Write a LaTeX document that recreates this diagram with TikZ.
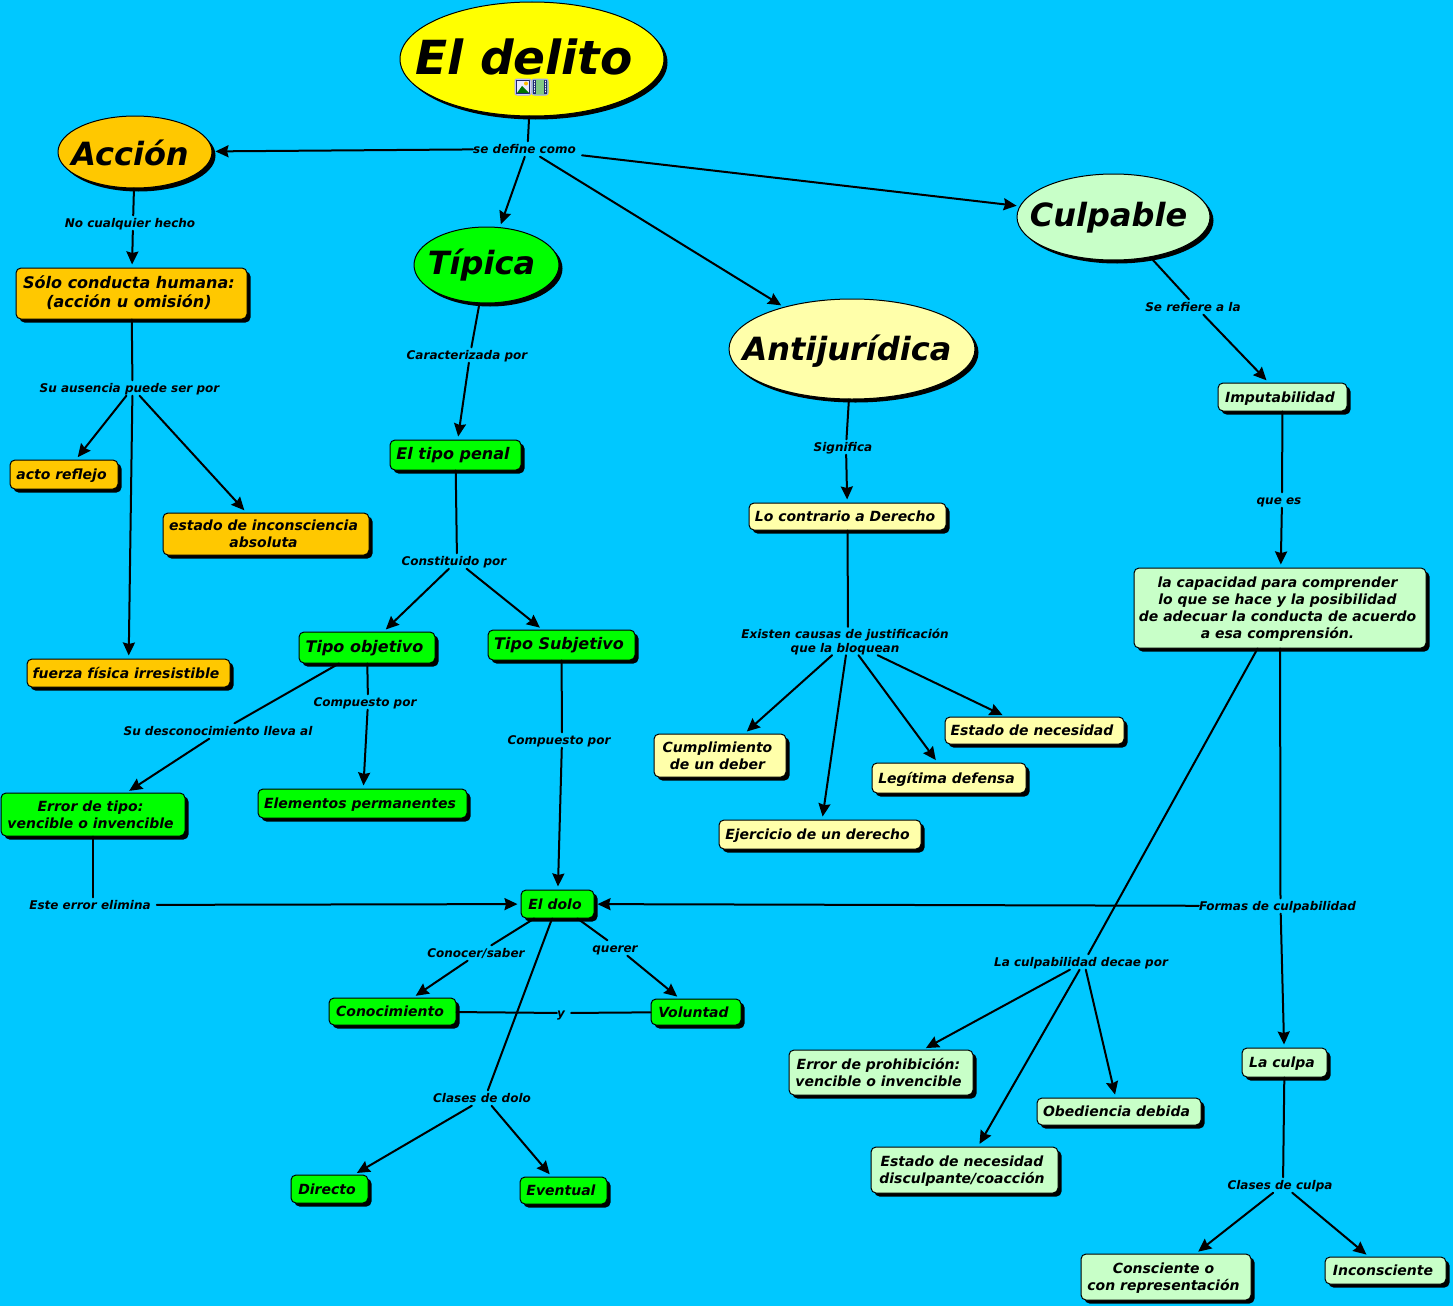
\documentclass[tikz,border=0pt]{standalone}
\usepackage{fontspec}
\setmainfont{DejaVu Sans}
\usetikzlibrary{arrows.meta,shapes.geometric,shadows}
\definecolor{fondo}{RGB}{0,200,255}
\definecolor{amarillo}{RGB}{255,255,0}
\definecolor{naranja}{RGB}{255,200,0}
\definecolor{verde}{RGB}{0,255,0}
\definecolor{verdeclaro}{RGB}{200,255,200}
\definecolor{crema}{RGB}{255,255,170}
\definecolor{marino}{RGB}{30,40,110}
\newcommand{\cj}[1]{\raisebox{-2pt}[\height][\depth]{\begin{tabular}{@{}c@{\hspace{5pt}}}#1\end{tabular}}}
\newcommand{\cjg}[1]{\raisebox{-1pt}[\height][\depth]{\begin{tabular}{@{}c@{\hspace{5pt}}}#1\end{tabular}}}
\newcommand{\et}[1]{\raisebox{-2pt}[\height][\depth]{\begin{tabular}{@{}c@{\hspace{6pt}}}#1\end{tabular}}}
\newcommand{\elip}[2][0.30em]{\makebox[0pt]{\smash{\raisebox{-#1}{#2\hspace{10pt}}}}}
\tikzset{
  sombra/.style={general shadow={shadow xshift=3.5pt,shadow yshift=-3.5pt,fill=black}},
  elipse/.style={ellipse,draw=black,line width=1pt,sombra,inner sep=0pt,font=\fontsize{32}{36}\selectfont\bfseries\itshape},
  caja/.style={rectangle,rounded corners=5pt,draw=black,line width=1pt,sombra,inner sep=0pt,font=\fontsize{14}{17}\selectfont\bfseries\itshape},
  cajag/.style={caja,font=\fontsize{16}{19}\selectfont\bfseries\itshape},
  etiqueta/.style={inner sep=0pt,minimum height=15pt,font=\fontsize{12}{14}\selectfont\bfseries\itshape},
  icono/.style={draw=blue!35!white,rounded corners=2pt,line width=1pt,minimum size=16pt,inner sep=0pt},
  enlace/.style={line width=2pt},
  flecha/.style={line width=2pt,-{Stealth[length=13pt,width=12pt,inset=1.5pt]},shorten >=3pt},
}
\begin{document}
\begin{tikzpicture}[line cap=round,line join=round,x=1pt,y=-1pt]
\useasboundingbox (0,0) rectangle (1453,1306);
\fill[fondo] (0,0) rectangle (1453,1306);

\node[elipse,fill=amarillo,minimum width=264pt,minimum height=114pt,font=\fontsize{47}{52}\selectfont\bfseries\itshape] (delito) at (532,59) {\elip[0.32em]{El delito\hspace{6pt}}};
\node[elipse,fill=naranja,minimum width=154pt,minimum height=72pt] (accion) at (135,152) {\elip[0.42em]{Acción}};
\node[elipse,fill=verde,minimum width=145pt,minimum height=76pt] (tipica) at (486.5,265) {\elip{Típica}};
\node[elipse,fill=crema,minimum width=246pt,minimum height=100pt] (antijuridica) at (852,349) {\elip[0.36em]{Antijurídica}};
\node[elipse,fill=verdeclaro,minimum width=193pt,minimum height=86pt] (culpable) at (1113.5,217) {\elip{Culpable}};

\node[icono,fill=blue!8!white] (imagen) at (523,87) {};
\node[icono,fill=green!40!gray!70!white] (video) at (540,87) {};
\fill[green!45!black] (517,93) -- (522,86) -- (529,93) -- cycle;
\fill[orange!50!yellow] (526,83.5) circle (2pt);
\draw[marino,line width=0.8pt] (516.5,80.5) rectangle (529.5,93.5);
\fill[marino] (533,80) rectangle (536,94);
\fill[marino] (544,80) rectangle (547,94);
\draw[white,line width=0.8pt,dash pattern=on 1pt off 1.5pt] (534.5,81) -- (534.5,93);
\draw[white,line width=0.8pt,dash pattern=on 1pt off 1.5pt] (545.5,81) -- (545.5,93);

\node[cajag,fill=naranja,minimum width=231pt,minimum height=51pt] (solo) at (131.5,293.5) {\cjg{Sólo conducta humana:\\(acción u omisión)}};
\node[caja,fill=naranja,minimum width=108pt,minimum height=29pt] (acto) at (64,474.5) {\cj{acto reflejo}};
\node[caja,fill=naranja,minimum width=206pt,minimum height=42pt] (estado) at (266,534) {\cj{estado de inconsciencia\\absoluta}};
\node[caja,fill=naranja,minimum width=203pt,minimum height=28pt] (fuerza) at (128.5,673) {\cj{fuerza física irresistible}};

\node[cajag,fill=verde,minimum width=131pt,minimum height=30pt] (penal) at (455.5,455) {\cjg{El tipo penal}};
\node[cajag,fill=verde,minimum width=136pt,minimum height=31pt] (objetivo) at (367,647.5) {\cjg{Tipo objetivo}};
\node[cajag,fill=verde,minimum width=147pt,minimum height=30pt] (subjetivo) at (561.5,645) {\cjg{Tipo Subjetivo}};
\node[caja,fill=verde,minimum width=184pt,minimum height=43pt] (error) at (93,814.5) {\cj{Error de tipo:\\vencible o invencible}};
\node[caja,fill=verde,minimum width=209pt,minimum height=29pt] (elementos) at (362.5,803.5) {\cj{Elementos permanentes}};
\node[caja,fill=verde,minimum width=73pt,minimum height=28pt] (dolo) at (557.5,904) {\cj{El dolo}};
\node[caja,fill=verde,minimum width=127pt,minimum height=27pt] (conocimiento) at (392.5,1011.5) {\cj{Conocimiento}};
\node[caja,fill=verde,minimum width=90pt,minimum height=26pt] (voluntad) at (696,1012) {\cj{Voluntad}};
\node[caja,fill=verde,minimum width=77pt,minimum height=28pt] (directo) at (329.5,1189) {\cj{Directo}};
\node[caja,fill=verde,minimum width=87pt,minimum height=27pt] (eventual) at (563.5,1190.5) {\cj{Eventual}};

\node[caja,fill=crema,minimum width=197pt,minimum height=27pt] (contrario) at (847.5,516.5) {\cj{Lo contrario a Derecho}};
\node[caja,fill=crema,minimum width=132pt,minimum height=43pt] (cumplimiento) at (720,755.5) {\cj{Cumplimiento\\de un deber}};
\node[caja,fill=crema,minimum width=179pt,minimum height=27pt] (necesidad) at (1034.5,730.5) {\cj{Estado de necesidad}};
\node[caja,fill=crema,minimum width=154pt,minimum height=30pt] (legitima) at (949,778) {\cj{Legítima defensa}};
\node[caja,fill=crema,minimum width=202pt,minimum height=29pt] (ejercicio) at (820,834.5) {\cj{Ejercicio de un derecho}};

\node[caja,fill=verdeclaro,minimum width=129pt,minimum height=28pt] (imputabilidad) at (1282.5,397) {\cj{Imputabilidad}};
\node[caja,fill=verdeclaro,minimum width=292pt,minimum height=80pt] (capacidad) at (1280,608) {\cj{la capacidad para comprender\\lo que se hace y la posibilidad\\de adecuar la conducta de acuerdo\\a esa comprensión.}};
\node[caja,fill=verdeclaro,minimum width=85pt,minimum height=29pt] (culpa) at (1284.5,1062.5) {\cj{La culpa}};
\node[caja,fill=verdeclaro,minimum width=184pt,minimum height=45pt] (prohibicion) at (881,1072.5) {\cj{Error de prohibición:\\vencible o invencible}};
\node[caja,fill=verdeclaro,minimum width=164pt,minimum height=27pt] (obediencia) at (1119,1111.5) {\cj{Obediencia debida}};
\node[caja,fill=verdeclaro,minimum width=187pt,minimum height=46pt] (disculpante) at (964.5,1170) {\cj{Estado de necesidad\\disculpante/coacción}};
\node[caja,fill=verdeclaro,minimum width=170pt,minimum height=46pt] (consciente) at (1166,1277) {\cj{Consciente o\\con representación}};
\node[caja,fill=verdeclaro,minimum width=121pt,minimum height=27pt] (inconsciente) at (1385.5,1270.5) {\cj{Inconsciente}};

\node[etiqueta] (define) at (527.5,149) {\et{se define como}};
\node[etiqueta] (hecho) at (133,223) {\et{No cualquier hecho}};
\node[etiqueta] (ausencia) at (132.5,388) {\et{Su ausencia puede ser por}};
\node[etiqueta] (caracterizada) at (470,355) {\et{Caracterizada por}};
\node[etiqueta] (constituido) at (457,561) {\et{Constituido por}};
\node[etiqueta] (compuesto1) at (368,702) {\et{Compuesto por}};
\node[etiqueta] (desconocimiento) at (221,731) {\et{Su desconocimiento lleva al}};
\node[etiqueta] (compuesto2) at (562,740) {\et{Compuesto por}};
\node[etiqueta] (elimina) at (93,905) {\et{Este error elimina}};
\node[etiqueta] (saber) at (479,953) {\et{Conocer/saber}};
\node[etiqueta] (querer) at (618,948) {\et{querer}};
\node[etiqueta] (conjuncion) at (564,1013) {\et{y}};
\node[etiqueta] (clasesdolo) at (485,1098) {\et{Clases de dolo}};
\node[etiqueta] (significa) at (846,447) {\et{Significa}};
\node[etiqueta] (causas) at (848,641) {\et{Existen causas de justificación\\que la bloquean}};
\node[etiqueta] (refiere) at (1196,307) {\et{Se refiere a la}};
\node[etiqueta] (quees) at (1282,500) {\et{que es}};
\node[etiqueta] (formas) at (1280.5,906) {\et{Formas de culpabilidad}};
\node[etiqueta] (decae) at (1084,962) {\et{La culpabilidad decae por}};
\node[etiqueta] (clasesculpa) at (1283,1185) {\et{Clases de culpa}};

\draw [enlace] (delito) -- (define);
\draw [flecha] (define) -- (accion);
\draw [flecha] (define) -- (tipica);
\draw [flecha] (define) -- (antijuridica);
\draw [flecha] (define) -- (culpable);

\draw [enlace] (accion) -- (hecho);
\draw [flecha] (hecho) -- (solo);
\draw [enlace] (solo) -- (ausencia);
\draw [flecha] (ausencia) -- (acto);
\draw [flecha] (ausencia) -- (estado);
\draw [flecha] (ausencia) -- (fuerza);

\draw [enlace] (tipica) -- (caracterizada);
\draw [flecha] (caracterizada) -- (penal);
\draw [enlace] (penal) -- (constituido);
\draw [flecha] (constituido) -- (objetivo);
\draw [flecha] (constituido) -- (subjetivo);
\draw [enlace] (objetivo) -- (compuesto1);
\draw [flecha] (compuesto1) -- (elementos);
\draw [enlace] (objetivo) -- (desconocimiento);
\draw [flecha] (desconocimiento) -- (error);
\draw [enlace] (subjetivo) -- (compuesto2);
\draw [flecha] (compuesto2) -- (dolo);
\draw [enlace] (error) -- (elimina);
\draw [flecha] (elimina) -- (dolo);
\draw [enlace] (dolo) -- (saber);
\draw [flecha] (saber) -- (conocimiento);
\draw [enlace] (dolo) -- (querer);
\draw [flecha] (querer) -- (voluntad);
\draw [enlace] (conocimiento) -- (conjuncion);
\draw [enlace] (conjuncion) -- (voluntad);
\draw [enlace] (dolo) -- (clasesdolo);
\draw [flecha] (clasesdolo) -- (directo);
\draw [flecha] (clasesdolo) -- (eventual);

\draw [enlace] (antijuridica) -- (significa);
\draw [flecha] (significa) -- (contrario);
\draw [enlace] (contrario) -- (causas);
\draw [flecha] (causas) -- (cumplimiento);
\draw [flecha] (causas) -- (ejercicio);
\draw [flecha] (causas) -- (legitima);
\draw [flecha] (causas) -- (necesidad);

\draw [enlace] (culpable) -- (refiere);
\draw [flecha] (refiere) -- (imputabilidad);
\draw [enlace] (imputabilidad) -- (quees);
\draw [flecha] (quees) -- (capacidad);
\draw [enlace] (capacidad) -- (formas);
\draw [flecha] (formas) -- (dolo);
\draw [flecha] (formas) -- (culpa);
\draw [enlace] (capacidad) -- (decae);
\draw [flecha] (decae) -- (prohibicion);
\draw [flecha] (decae) -- (disculpante);
\draw [flecha] (decae) -- (obediencia);
\draw [enlace] (culpa) -- (clasesculpa);
\draw [flecha] (clasesculpa) -- (consciente);
\draw [flecha] (clasesculpa) -- (inconsciente);
\end{tikzpicture}
\end{document}
